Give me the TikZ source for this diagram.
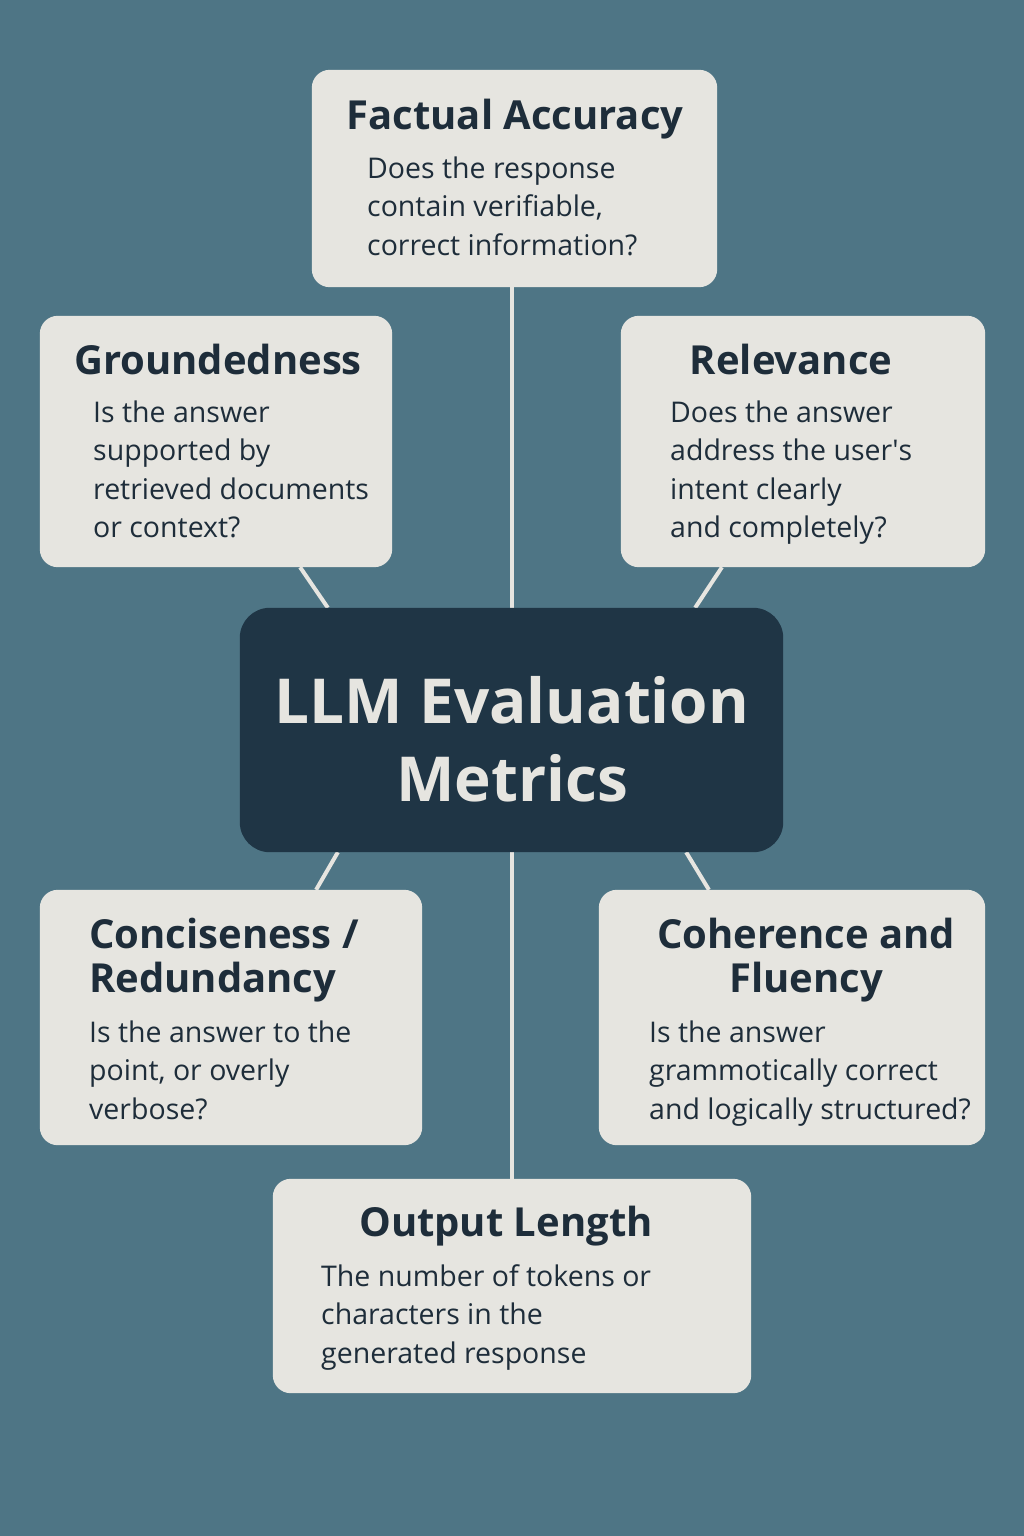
\documentclass[tikz,border=0pt]{standalone}
\usepackage{fontspec}
\setmainfont{Open Sans}
\usetikzlibrary{calc}
\definecolor{bgc}{HTML}{4E7585}
\definecolor{boxc}{HTML}{E6E5E0}
\definecolor{darkc}{HTML}{1F3545}
\definecolor{txtc}{HTML}{1E2D3A}
\tikzset{
  card/.style={fill=boxc, draw=none, rounded corners=18pt},
  hub/.style={fill=darkc, draw=none, rounded corners=30pt},
  ttl/.style={text=txtc, font=\fontsize{40}{44}\selectfont\bfseries, inner sep=0pt},
  body/.style={text=txtc, font=\fontsize{28.5}{38.5}\selectfont, inner sep=0pt, align=left},
  link/.style={draw=boxc, line width=4pt},
}
\begin{document}
\begin{tikzpicture}[x=1pt,y=-1pt]
\fill[bgc] (0,0) rectangle (1024,1536);
\useasboundingbox (0,0) rectangle (1024,1536);
% boxes (frames)
\node[inner sep=0pt, minimum width=405pt, minimum height=217pt] (fa) at (514.5,178.5) {};
\node[inner sep=0pt, minimum width=352pt, minimum height=251pt] (gr) at (216,441.5) {};
\node[inner sep=0pt, minimum width=364pt, minimum height=251pt] (re) at (803,441.5) {};
\node[inner sep=0pt, minimum width=543pt, minimum height=244pt] (hb) at (511.5,730) {};
\node[inner sep=0pt, minimum width=382pt, minimum height=255pt] (co) at (231,1017.5) {};
\node[inner sep=0pt, minimum width=386pt, minimum height=255pt] (ch) at (792,1017.5) {};
\node[inner sep=0pt, minimum width=478pt, minimum height=214pt] (ol) at (512,1286) {};
% connectors
\draw[link] (fa.south -| 512,0) -- (hb.north -| 512,0);
\draw[link] ($(gr.south west)!0.7386!(gr.south east)$) -- ($(hb.north west)!0.1621!(hb.north east)$);
\draw[link] ($(re.south west)!0.2775!(re.south east)$) -- ($(hb.north west)!0.8379!(hb.north east)$);
\draw[link] ($(hb.south west)!0.1805!(hb.south east)$) -- ($(co.north west)!0.7225!(co.north east)$);
\draw[link] ($(hb.south west)!0.8214!(hb.south east)$) -- ($(ch.north west)!0.2850!(ch.north east)$);
\draw[link] (hb.south -| 512,0) -- (ol.north -| 512,0);
% card fills
\foreach \n in {fa,gr,re,co,ch,ol}{
  \path[card] (\n.south west) rectangle (\n.north east);
}
\path[hub] (hb.south west) rectangle (hb.north east);
% Factual Accuracy (base anchor = last line baseline)
\node[ttl, anchor=base] (fat) at (515,130) {Factual Accuracy};
\node[body, anchor=base west] (fab) at (367,255) {Does the response\\contain verifiable,\\correct information?};
% Groundedness
\node[ttl, anchor=base] (grt) at (218,374) {Groundedness};
\node[body, anchor=base west] (grb) at (93,537.5) {Is the answer\\supported by\\retrieved documents\\or context?};
% Relevance
\node[ttl, anchor=base] (ret) at (791,374) {Relevance};
\node[body, anchor=base west] (reb) at (670,537.5) {Does the answer\\address the user\textquotesingle s\\intent clearly\\and completely?};
% Hub
\node[text=boxc, font=\fontsize{62}{78}\selectfont\bfseries, inner sep=0pt, align=center, anchor=base] (hbt) at (512,801) {LLM Evaluation\\Metrics};
% Conciseness
\node[ttl, anchor=base west, align=left] (cot) at (89,992) {Conciseness /\\Redundancy};
\node[body, anchor=base west] (cob) at (89,1119) {Is the answer to the\\point, or overly\\verbose?};
% Coherence
\node[ttl, anchor=base, align=center] (cht) at (806,992) {Coherence and\\Fluency};
\node[body, anchor=base west] (chb) at (649,1119) {Is the answer\\grammotically correct\\and logically structured?};
% Output Length
\node[ttl, anchor=base] (olt) at (506,1236) {Output Length};
\node[body, anchor=base west] (olb) at (321,1363) {The number of tokens or\\characters in the\\generated response};
\end{tikzpicture}
\end{document}
